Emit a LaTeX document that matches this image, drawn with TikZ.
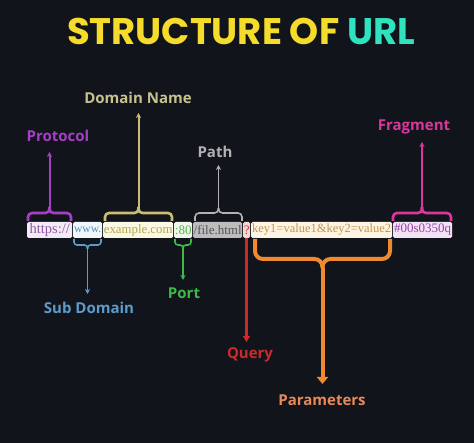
\documentclass[tikz,border=0pt]{standalone}
\usepackage{fontspec}
\setmainfont{Liberation Serif}
\newfontfamily\titlefont{Poppins}
\newfontfamily\labfont{Open Sans}
\usetikzlibrary{arrows.meta}
\definecolor{bg}{HTML}{12141C}
\definecolor{ttlyellow}{HTML}{F5DC2C}
\definecolor{ttlcyan}{HTML}{2FE3BE}
\definecolor{cproto}{HTML}{A63FC6}
\definecolor{cdom}{HTML}{C9BE72}
\definecolor{cpath}{HTML}{B2B2B2}
\definecolor{cfrag}{HTML}{DA379C}
\definecolor{csub}{HTML}{5C9CCA}
\definecolor{cport}{HTML}{40B848}
\definecolor{cquery}{HTML}{CC2A2A}
\definecolor{cparam}{HTML}{F08A2E}
\definecolor{lparam}{HTML}{E8895A}
\definecolor{ldom}{HTML}{C8C28E}
% box fills and texts
\definecolor{fproto}{HTML}{F4EAF6}\definecolor{tproto}{HTML}{8E5BA0}
\definecolor{fsub}{HTML}{F2F7FA}\definecolor{tsub}{HTML}{4F8DBC}
\definecolor{fdom}{HTML}{FBF8E4}\definecolor{tdom}{HTML}{B3A650}
\definecolor{fport}{HTML}{EEF8EA}\definecolor{tport}{HTML}{58B04C}
\definecolor{fpath}{HTML}{BDBDBD}\definecolor{tpath}{HTML}{555555}
\definecolor{fquery}{HTML}{F7D6D6}\definecolor{tquery}{HTML}{D03030}
\definecolor{fparam}{HTML}{FDF5E4}\definecolor{tparam}{HTML}{C8924C}
\definecolor{ffrag}{HTML}{F2E3F4}\definecolor{tfrag}{HTML}{9C40AA}
\newcommand\UpBrace[6]{% style, x1, x2, ybottom, ymid, ytop
  \draw[#1] (#2,#4) -- (#2,#5) -- ({(#2+#3)/2},#5) -- ({(#2+#3)/2},#6);
  \draw[#1] (#3,#4) -- (#3,#5) -- ({(#2+#3)/2},#5) -- ({(#2+#3)/2},#6);}
\newcommand\fs[1]{\fontsize{#1}{#1}\selectfont}
\tikzset{
  urlbox/.style={rounded corners=1.5pt, minimum height=16pt, inner sep=0pt, anchor=west},
  lab/.style={font=\labfont\bfseries\fontsize{15}{15}\selectfont, inner sep=0pt, anchor=base},
  brc/.style={line width=#1, rounded corners=4pt},
  arr/.style={line width=#1, -{Stealth[length=5pt,width=5pt]}},
}
\begin{document}
\begin{tikzpicture}[x=1pt,y=-1pt]
\fill[bg] (0,0) rectangle (474,443);
\useasboundingbox (0,0) rectangle (474,443);
% title
\node[anchor=base, inner sep=0pt] (title) at (241,45)
  {\titlefont\bfseries\fontsize{37}{37}\selectfont\color{ttlyellow}STRUCTURE OF \color{ttlcyan}URL};
% url boxes
\node[urlbox, fill=fproto, minimum width=45pt, text=tproto, font=\fs{14.5}] (proto) at (27,230) {https://};
\node[urlbox, fill=fsub, minimum width=29pt, text=tsub, font=\fs{11.6}] (sub) at (73,230) {www.};
\node[urlbox, fill=fdom, minimum width=70pt, text=tdom, font=\fs{12.8}] (dom) at (103,230) {example.com};
\node[urlbox, fill=fport, minimum width=18pt, text=tport, font=\fs{13}] (port) at (174,230) {:80};
\node[urlbox, fill=fpath, minimum width=49pt, text=tpath, font=\fs{13}] (path) at (193,230) {/file.html};
\node[urlbox, fill=fquery, minimum width=7pt, text=tquery, font=\fs{13}] (query) at (243,230) {?};
\node[urlbox, fill=fparam, minimum width=141pt, text=tparam, font=\fs{12.5}] (param) at (251,230) {key1=value1\&key2=value2};
\node[urlbox, fill=ffrag, minimum width=59pt, text=tfrag, font=\fs{13}] (frag) at (393,230) {\#00s0350q};
% braces above
\UpBrace{cproto,brc=2.6pt}{28}{71}{221}{213}{207}
\UpBrace{cdom,brc=2.6pt}{105}{172}{221}{213}{207}
\UpBrace{cpath,brc=1.6pt}{195}{242}{221}{213}{208}
\UpBrace{cfrag,brc=2.6pt}{393}{451}{221}{213}{207}
% braces below
\UpBrace{csub,brc=1.6pt,rounded corners=3pt}{74}{101}{239}{245}{249}
\UpBrace{cport,brc=1.6pt,rounded corners=3pt}{175}{191}{239}{245}{249}
\UpBrace{cparam,brc=4pt,rounded corners=8pt}{255}{390}{239}{259}{268}
% cusp coordinates
\coordinate (cproto) at (49.5,207);
\coordinate (cdom) at (138.5,207);
\coordinate (cpath) at (218.5,208);
\coordinate (cfrag) at (422,207);
\coordinate (csub) at (87.5,249);
\coordinate (cport) at (183,249);
\coordinate (cparam) at (322.5,268);
% labels
\node[lab, text=cproto] (lproto) at (58,142) {Protocol};
\node[lab, text=ldom] (ldom) at (138,104) {Domain Name};
\node[lab, text=cpath] (lpath) at (215,158) {Path};
\node[lab, text=cfrag] (lfrag) at (414,131) {Fragment};
\node[lab, text=csub] (lsub) at (89,314) {Sub Domain};
\node[lab, text=cport] (lport) at (184,299) {Port};
\node[lab, text=cquery] (lquery) at (250,359) {Query};
\node[lab, text=lparam] (lparam) at (322,406) {Parameters};
% arrows
\coordinate (aproto) at (49.5,152);
\coordinate (adom) at (138.5,113);
\coordinate (apath) at (218.5,165);
\coordinate (afrag) at (422,142);
\coordinate (asub) at (87.5,294);
\coordinate (aport) at (183,280);
\coordinate (aquery) at (246.5,342);
\coordinate (aparam) at (322.5,384);
\coordinate (squery) at (246.5,238);
\draw[cproto, arr=2pt] (cproto) -- (aproto);
\draw[cdom, arr=2pt] (cdom) -- (adom);
\draw[cpath, arr=1.3pt] (cpath) -- (apath);
\draw[cfrag, arr=2.6pt] (cfrag) -- (afrag);
\draw[csub, arr=1.4pt] (csub) -- (asub);
\draw[cport, arr=1.2pt] (cport) -- (aport);
\draw[cquery, line width=2.6pt, -{Triangle[length=6pt,width=7pt]}] (squery) -- (aquery);
\draw[cparam, line width=4pt, -{Triangle[length=7pt,width=11pt]}] (cparam) -- (aparam);
\end{tikzpicture}
\end{document}
